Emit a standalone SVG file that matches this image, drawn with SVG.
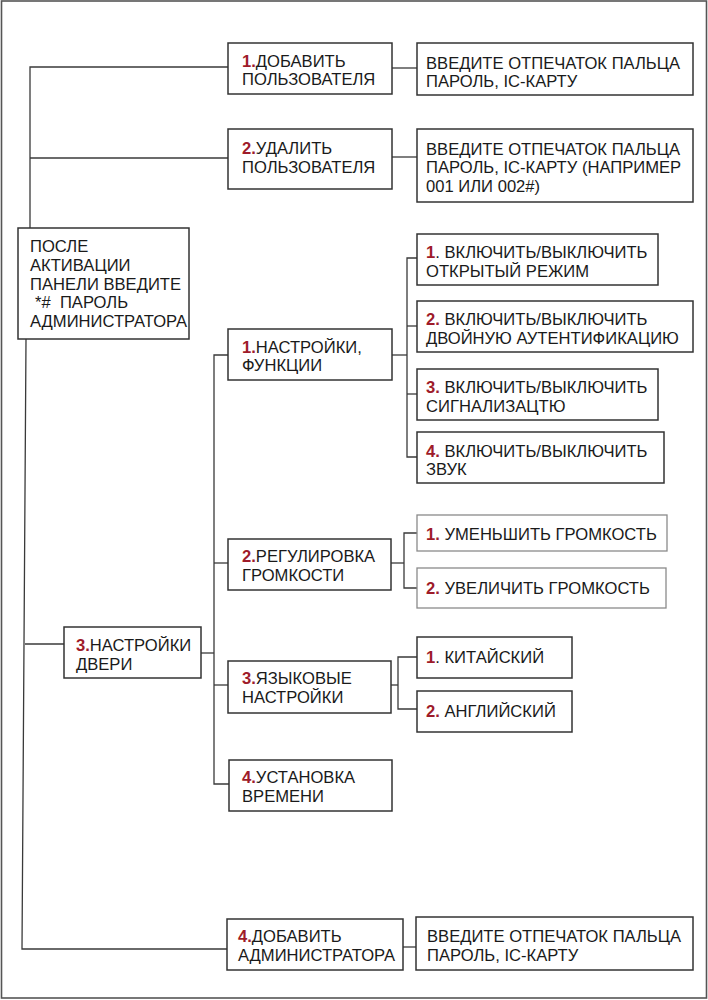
<svg xmlns="http://www.w3.org/2000/svg" width="708" height="1000" viewBox="0 0 708 1000">
<style>
.box{fill:#fff;stroke:#333;stroke-width:1.5}
.lbox{fill:#fff;stroke:#8a8a8a;stroke-width:1.3}
.c{fill:none;stroke:#3a3a3a;stroke-width:1.3}
text{font-family:"Liberation Sans",Arial,sans-serif;font-size:16.6px;fill:#1a1a1a}
.r{fill:#9e1b2a;font-weight:bold}
</style>
<rect x="1.5" y="1" width="705" height="997" fill="#fff" stroke="#555" stroke-width="1.6"/>
<g id="connectors">
<polyline class="c" points="30,228 30,67 228,67"/>
<line class="c" x1="30" y1="158" x2="228" y2="158"/>
<line class="c" x1="392" y1="68" x2="417" y2="68"/>
<line class="c" x1="392" y1="157" x2="417" y2="157"/>
<polyline class="c" points="26,339 22,949 227,949"/>
<line class="c" x1="25" y1="644" x2="64" y2="644"/>
<line class="c" x1="201" y1="653" x2="214" y2="653"/>
<polyline class="c" points="228,355 214,355 214,784 229,784"/>
<line class="c" x1="214" y1="563" x2="228" y2="563"/>
<line class="c" x1="214" y1="685" x2="228" y2="685"/>
<line class="c" x1="392" y1="355" x2="407" y2="355"/>
<polyline class="c" points="417,258 407,258 407,457 417,457"/>
<line class="c" x1="407" y1="326" x2="417" y2="326"/>
<line class="c" x1="407" y1="394" x2="417" y2="394"/>
<line class="c" x1="391" y1="563" x2="404" y2="563"/>
<polyline class="c" points="417,533 404,533 404,588 417,588"/>
<line class="c" x1="391" y1="685" x2="398" y2="685"/>
<polyline class="c" points="417,657 398,657 398,709 417,709"/>
<line class="c" x1="403" y1="947" x2="416" y2="947"/>
</g>
<g id="root">
<rect class="box" x="18" y="228" width="171" height="111"/>
<text x="30" y="252">ПОСЛЕ</text>
<text x="30" y="271">АКТИВАЦИИ</text>
<text x="30" y="290">ПАНЕЛИ ВВЕДИТЕ</text>
<text x="35" y="308">*#&#160; ПАРОЛЬ</text>
<text x="30" y="327">АДМИНИСТРАТОРА</text>
</g>
<g id="add-user">
<rect class="box" x="228" y="43" width="164" height="51"/>
<text x="242" y="67"><tspan class="r">1.</tspan>ДОБАВИТЬ</text>
<text x="242" y="85">ПОЛЬЗОВАТЕЛЯ</text>
</g>
<g id="add-user-input">
<rect class="box" x="417" y="43" width="276" height="52"/>
<text x="426" y="69">ВВЕДИТЕ ОТПЕЧАТОК ПАЛЬЦА</text>
<text x="426" y="87">ПАРОЛЬ, IC-КАРТУ</text>
</g>
<g id="del-user">
<rect class="box" x="228" y="129" width="164" height="60"/>
<text x="242" y="154"><tspan class="r">2.</tspan>УДАЛИТЬ</text>
<text x="242" y="173">ПОЛЬЗОВАТЕЛЯ</text>
</g>
<g id="del-user-input">
<rect class="box" x="417" y="129" width="276" height="73"/>
<text x="426" y="155">ВВЕДИТЕ ОТПЕЧАТОК ПАЛЬЦА</text>
<text x="426" y="173">ПАРОЛЬ, IC-КАРТУ (НАПРИМЕР</text>
<text x="426" y="192">001 ИЛИ 002#)</text>
</g>
<g id="door-settings">
<rect class="box" x="64" y="627" width="137" height="51"/>
<text x="76" y="651"><tspan class="r">3.</tspan>НАСТРОЙКИ</text>
<text x="76" y="670">ДВЕРИ</text>
</g>
<g id="functions">
<rect class="box" x="228" y="329" width="164" height="51"/>
<text x="242" y="353"><tspan class="r">1.</tspan>НАСТРОЙКИ,</text>
<text x="242" y="371">ФУНКЦИИ</text>
</g>
<g id="f1">
<rect class="box" x="417" y="234" width="241" height="51"/>
<text x="426" y="258"><tspan class="r">1</tspan>. ВКЛЮЧИТЬ/ВЫКЛЮЧИТЬ</text>
<text x="426" y="277">ОТКРЫТЫЙ РЕЖИМ</text>
</g>
<g id="f2">
<rect class="box" x="417" y="301" width="276" height="51"/>
<text x="426" y="325"><tspan class="r">2.</tspan> ВКЛЮЧИТЬ/ВЫКЛЮЧИТЬ</text>
<text x="426" y="344">ДВОЙНУЮ АУТЕНТИФИКАЦИЮ</text>
</g>
<g id="f3">
<rect class="box" x="417" y="369" width="241" height="51"/>
<text x="426" y="393"><tspan class="r">3.</tspan> ВКЛЮЧИТЬ/ВЫКЛЮЧИТЬ</text>
<text x="426" y="412">СИГНАЛИЗАЦТЮ</text>
</g>
<g id="f4">
<rect class="box" x="417" y="432" width="247" height="51"/>
<text x="426" y="457"><tspan class="r">4.</tspan> ВКЛЮЧИТЬ/ВЫКЛЮЧИТЬ</text>
<text x="426" y="475">ЗВУК</text>
</g>
<g id="volume">
<rect class="box" x="228" y="539" width="163" height="51"/>
<text x="242" y="562"><tspan class="r">2.</tspan>РЕГУЛИРОВКА</text>
<text x="242" y="581">ГРОМКОСТИ</text>
</g>
<g id="v1">
<rect class="lbox" x="417" y="515" width="250" height="36"/>
<text x="426" y="540"><tspan class="r">1.</tspan> УМЕНЬШИТЬ ГРОМКОСТЬ</text>
</g>
<g id="v2">
<rect class="lbox" x="417" y="568" width="249" height="40"/>
<text x="426" y="594"><tspan class="r">2.</tspan> УВЕЛИЧИТЬ ГРОМКОСТЬ</text>
</g>
<g id="language">
<rect class="box" x="228" y="661" width="163" height="52"/>
<text x="242" y="684"><tspan class="r">3.</tspan>ЯЗЫКОВЫЕ</text>
<text x="242" y="703">НАСТРОЙКИ</text>
</g>
<g id="l1">
<rect class="box" x="417" y="637" width="155" height="41"/>
<text x="426" y="663"><tspan class="r">1</tspan>. КИТАЙСКИЙ</text>
</g>
<g id="l2">
<rect class="box" x="417" y="691" width="155" height="41"/>
<text x="426" y="717"><tspan class="r">2.</tspan> АНГЛИЙСКИЙ</text>
</g>
<g id="time">
<rect class="box" x="229" y="760" width="163" height="51"/>
<text x="242" y="783"><tspan class="r">4.</tspan>УСТАНОВКА</text>
<text x="242" y="802">ВРЕМЕНИ</text>
</g>
<g id="add-admin">
<rect class="box" x="227" y="919" width="176" height="51"/>
<text x="238" y="942"><tspan class="r">4.</tspan>ДОБАВИТЬ</text>
<text x="238" y="961">АДМИНИСТРАТОРА</text>
</g>
<g id="add-admin-input">
<rect class="box" x="416" y="917" width="277" height="53"/>
<text x="427" y="942">ВВЕДИТЕ ОТПЕЧАТОК ПАЛЬЦА</text>
<text x="427" y="961">ПАРОЛЬ, IC-КАРТУ</text>
</g>
</svg>
